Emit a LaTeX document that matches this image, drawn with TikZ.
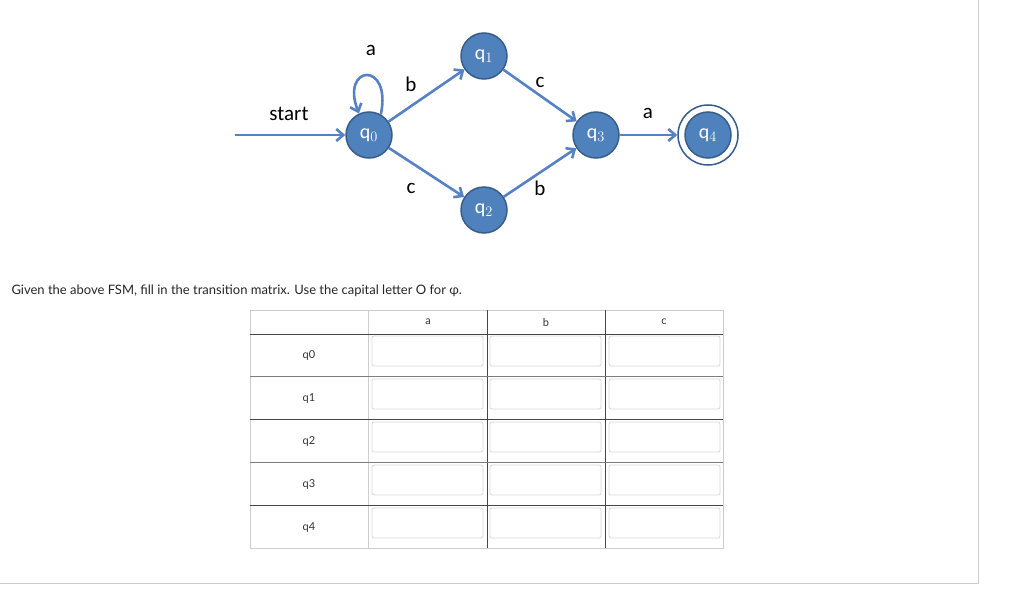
\documentclass[tikz,border=0pt]{standalone}
\usepackage{fontspec}
\setmainfont{Carlito}
\newfontfamily\latofont{Lato}
\usetikzlibrary{arrows.meta}
\definecolor{nodefill}{RGB}{79,129,189}
\definecolor{nodeedge}{RGB}{56,93,138}
\definecolor{edgecol}{RGB}{86,130,195}
\definecolor{darkline}{RGB}{70,70,70}
\definecolor{lightline}{RGB}{205,205,205}
\definecolor{boxline}{RGB}{215,215,215}
\tikzset{
  x=1pt,y=-1pt,
  state/.style={circle,fill=nodefill,draw=nodeedge,line width=1.5pt,minimum size=46pt,inner sep=0pt,text=white,font=\fontsize{20}{22}\selectfont},
  trans/.style={draw=edgecol,line width=2.6pt,-{Straight Barb[length=7pt,width=12pt]}},
  lbl/.style={font=\fontsize{21}{24}\selectfont},
  cell/.style={font=\latofont\fontsize{11}{13}\selectfont,text=black!80},
  inbox/.style={draw=boxline,rounded corners=2pt,line width=0.8pt}
}
\begin{document}
\begin{tikzpicture}
\useasboundingbox (0,0) rectangle (1024,591);
\draw[lightline,line width=0.8pt] (0,583) -- (978,583) -- (978,0);
% FSM
\node[state] (q0) at (369,135) {q$_0$};
\node[state] (q1) at (484,56) {q$_1$};
\node[state] (q2) at (484,210) {q$_2$};
\node[state] (q3) at (596,135) {q$_3$};
\node[state] (q4) at (708,135) {q$_4$};
\node[circle,draw=nodeedge,line width=1.5pt,minimum size=60pt] (q4o) at (708,135) {};
\coordinate (st) at (235,135);
\node[lbl] (lstart) at (289,114) {start};
\draw[trans] (st) -- (q0);
\draw[trans] (q0.60) .. controls (392,60) and (340,65) .. (q0.115);
\node[lbl] (la) at (371,50) {a};
\draw[trans] (q0) -- (q1);
\node[lbl] (lb1) at (411,84) {b};
\draw[trans] (q0) -- (q2);
\node[lbl] (lc1) at (411,188) {c};
\draw[trans] (q1) -- (q3);
\node[lbl] (lc2) at (540,82) {c};
\draw[trans] (q2) -- (q3);
\node[lbl] (lb2) at (540,188) {b};
\draw[trans] (q3) -- (q4o);
\node[lbl] (la2) at (648,113) {a};
% text
\node[anchor=west,font=\latofont\fontsize{13}{15}\selectfont,text=black!85] (given) at (8,291) {Given the above FSM, fill in the transition matrix. Use the capital letter O for φ.};
% table
\draw[lightline,line width=0.8pt] (250,310) rectangle (723,548);
\draw[lightline,line width=0.8pt] (368,310) -- (368,548);
\draw[darkline,line width=1pt] (487,310) -- (487,548);
\draw[darkline,line width=1pt] (605,310) -- (605,548);
\draw[darkline,line width=1pt] (250,334) -- (723,334);
\draw[darkline!70,line width=0.8pt] (250,376) -- (723,376);
\draw[darkline,line width=1pt] (250,419) -- (723,419);
\draw[darkline!70,line width=0.8pt] (250,462) -- (723,462);
\draw[darkline,line width=1pt] (250,505) -- (723,505);
\node[cell] (ha) at (428,322) {a};
\node[cell] (hb) at (546,322) {b};
\node[cell] (hc) at (664,322) {c};
\foreach \r/\y in {0/355,1/398,2/441,3/484,4/527}{
  \node[cell] (r\r) at (309,\y) {q\r};
  \foreach \xa/\xb in {372/483,490/601,609/720}{
    \draw[inbox] (\xa,\y-19) rectangle (\xb,\y+11);
  }
}
\end{tikzpicture}
\end{document}
